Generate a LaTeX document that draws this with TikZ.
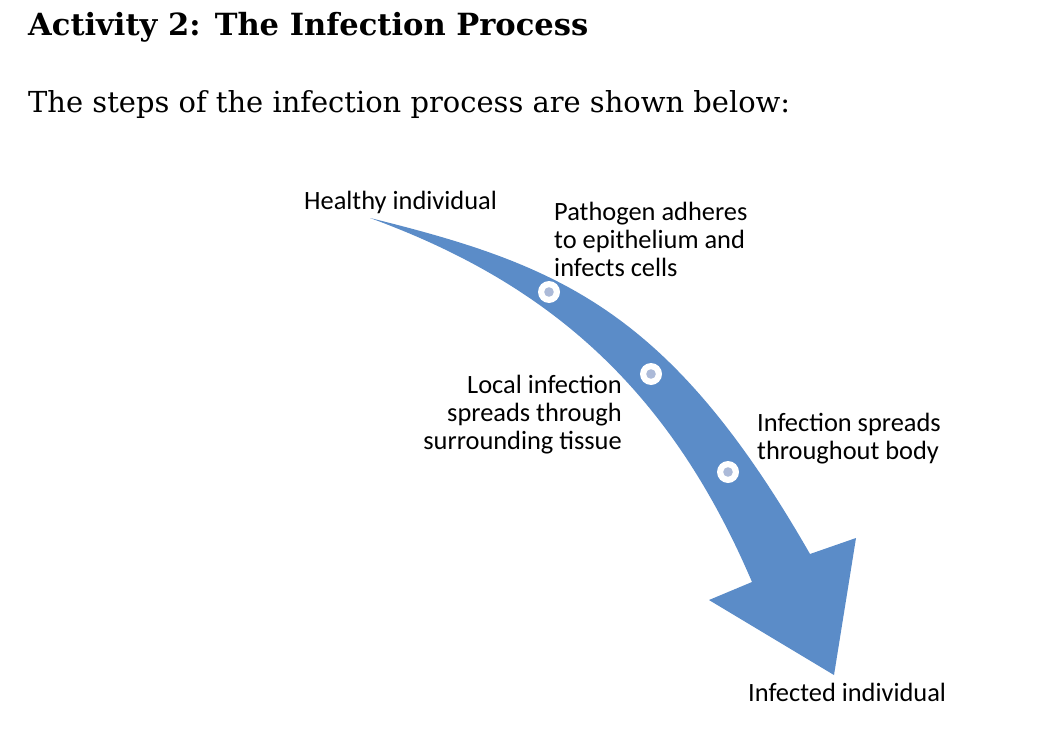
\documentclass[tikz,border=0pt]{standalone}
\usepackage{fontspec}
\setmainfont{DejaVu Serif}
\newfontfamily\labfont{Carlito}
\definecolor{arrowblue}{RGB}{91,140,200}
\definecolor{dotfill}{RGB}{172,186,216}
\begin{document}
\begin{tikzpicture}[x=1pt,y=-1pt,
  lbl/.style={inner sep=0pt, font=\labfont\fontsize{26.4}{28}\selectfont},
  ring/.style={circle, fill=white, minimum size=22pt, inner sep=0pt}]
\useasboundingbox (0,0) rectangle (1040,746);
\fill[white] (0,0) rectangle (1040,746);

\node[anchor=base west, inner sep=0pt] (title) at (28,36)
  {\resizebox{560pt}{!}{\bfseries Activity 2: The Infection Process}};
\node[anchor=base west, inner sep=0pt] (subtitle) at (28,113)
  {\resizebox{762pt}{!}{The steps of the infection process are shown below:}};

\fill[arrowblue] (370,218) .. controls (560,265) and (670,310) .. (810,554)
  -- (856,538) -- (834,675) -- (709,600) -- (752,582)
  .. controls (668,385) and (545,282) .. (370,218) -- cycle;

\node[ring] (s1) at (549,292) {};
\node[ring] (s2) at (651,374) {};
\node[ring] (s3) at (728,472) {};
\fill[dotfill] (s1.center) circle (4.8);
\fill[dotfill] (s2.center) circle (4.8);
\fill[dotfill] (s3.center) circle (4.8);

\node[lbl, anchor=base west] (healthy) at (304,209) {Healthy individual};
\node[lbl, anchor=base west] (adhere) at (554,220)
  {\begin{tabular}[t]{@{}l@{}}Pathogen adheres\\to epithelium and\\infects cells\end{tabular}};
\node[lbl, anchor=base east] (local) at (622,393)
  {\begin{tabular}[t]{@{}r@{}}Local infection\\spreads through\\surrounding tissue\end{tabular}};
\node[lbl, anchor=base west] (spread) at (757,431)
  {\begin{tabular}[t]{@{}l@{}}Infection spreads\\throughout body\end{tabular}};
\node[lbl, anchor=base west] (infected) at (748,701) {Infected individual};
\end{tikzpicture}
\end{document}
